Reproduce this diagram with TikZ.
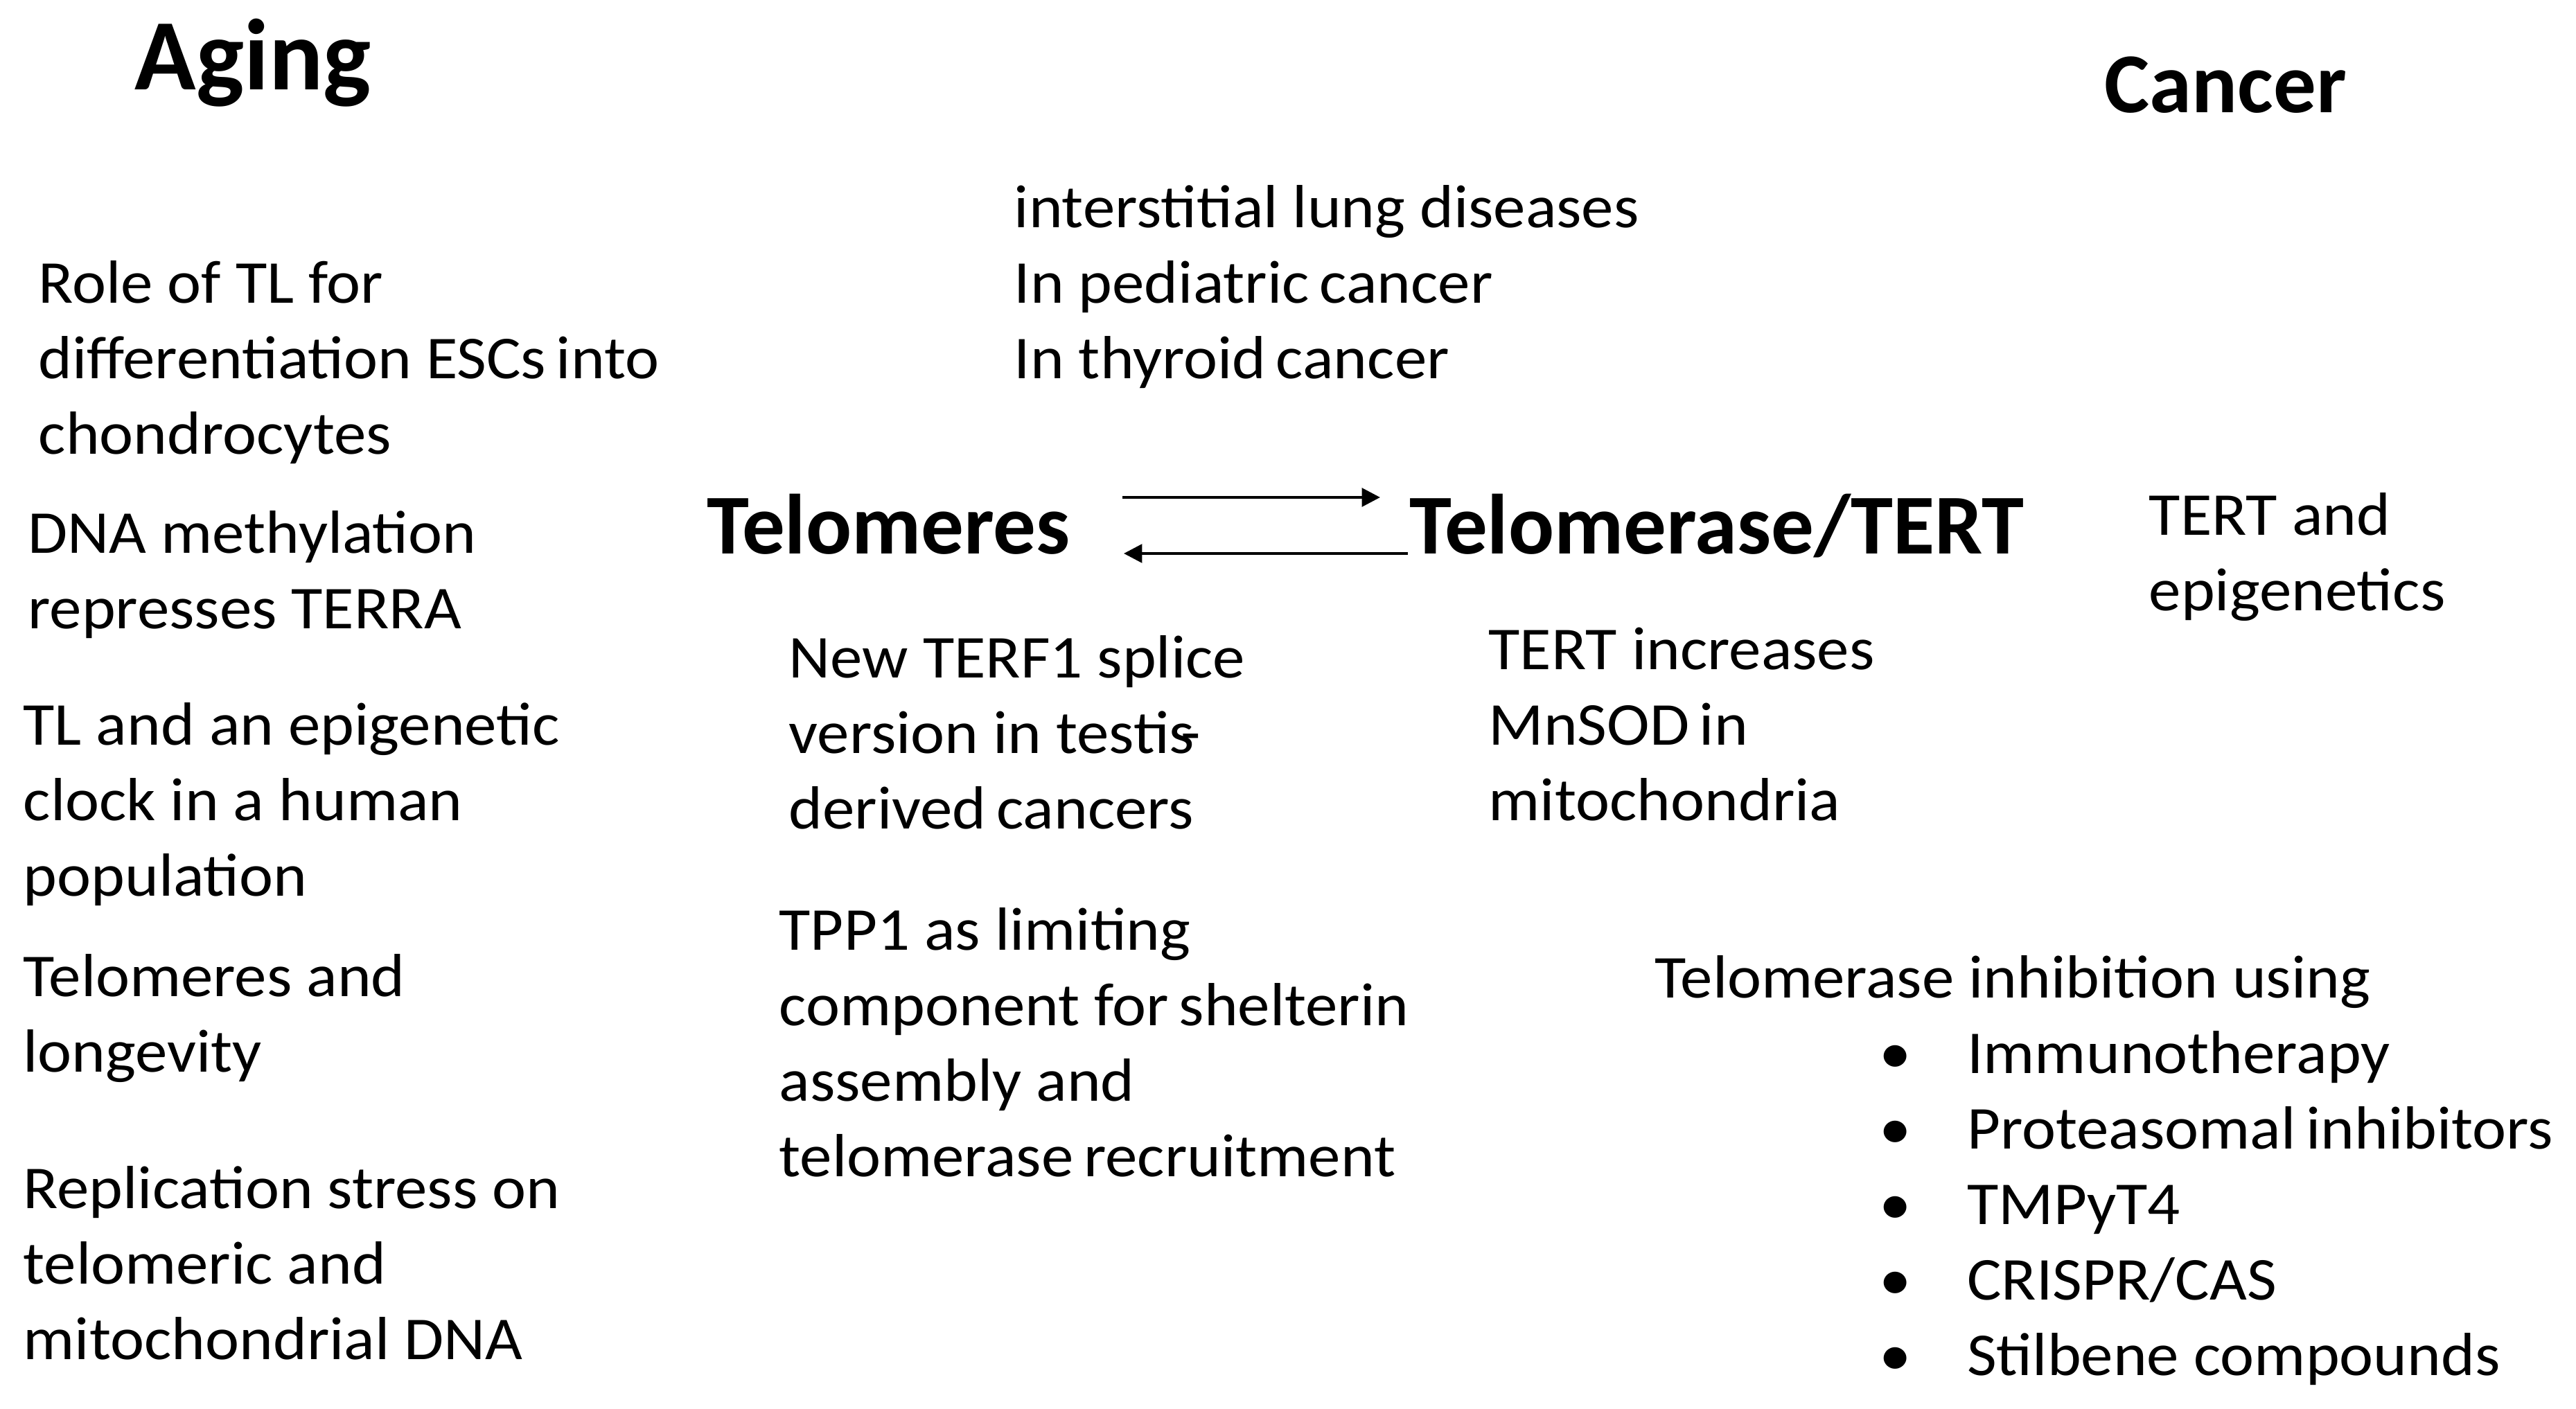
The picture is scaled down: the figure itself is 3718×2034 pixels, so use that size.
\documentclass[tikz,border=0pt]{standalone}
\usepackage{fontspec}
\setmainfont{Carlito}
\newfontfamily\bodyfont[FakeStretch=1.057]{Carlito}
\usetikzlibrary{arrows.meta}
\tikzset{
  body/.style={anchor=north west, inner sep=0pt, align=left, font=\bodyfont\fontsize{25}{31}\selectfont},
  head/.style={anchor=base west, inner sep=0pt, font=\fontsize{35}{42}\selectfont\bfseries},
  link/.style={line width=1.3pt, -{Triangle[length=7.5pt,width=7.5pt]}}
}
\begin{document}
\begin{tikzpicture}[x=0.01cm,y=-0.01cm]
\useasboundingbox (0,0) rectangle (3718,2034);
% headings
\node[anchor=base west, inner sep=0pt, font=\fontsize{41.5}{50}\selectfont\bfseries] (aging) at (194,130) {Aging};
\node[head] (cancer) at (3037,163) {Cancer};
\node[head] (tel) at (1020,799) {Telomeres};
\node[head] (tert) at (2034,799) {Telomerase/TERT};
% left column
\node[body] (role) at (55,360) {\strut Role of TL for\\differentiation ESCs\,into\\chondrocytes};
\node[body] (dna) at (40,721) {\strut DNA methylation\\represses TERRA};
\node[body] (clock) at (33,998) {\strut TL and an epigenetic\\clock in a human\\population};
\node[body] (long) at (33,1361) {\strut Telomeres and\\longevity};
\node[body] (repl) at (33,1667) {\strut Replication stress on\\telomeric and\\mitochondrial DNA};
% middle
\node[body] (lung) at (1463,251) {\strut interstitial lung diseases\\In pediatric\,cancer\\In thyroid\,cancer};
\node[body] (terf) at (1138,901) {\strut New TERF1 splice\\version in testis\kern-0.22em-\\derived\,cancers};
\node[body] (tpp) at (1124,1294) {\strut TPP1 as limiting\\component for\,shelterin\\assembly and\\telomerase\,recruitment};
% right
\node[body] (mnsod) at (2148,889) {\strut TERT increases\\MnSOD\,in\\mitochondria};
\node[body] (epi) at (3101,695) {\strut TERT and\\epigenetics};
\node[body] (inh) at (2388,1363) {\strut Telomerase inhibition using};
\node[body] (list) at (2712,1472) {\strut\makebox[36pt][l]{\textbullet}Immunotherapy\\
\makebox[36pt][l]{\textbullet}Proteasomal\,inhibitors\\
\makebox[36pt][l]{\textbullet}TMPyT4\\
\makebox[36pt][l]{\textbullet}CRISPR/CAS\\
\makebox[36pt][l]{\textbullet}Stilbene compounds};
% arrows
\coordinate (a1s) at (1620,718);
\coordinate (a1e) at (1992,718);
\coordinate (a2s) at (2032,799);
\coordinate (a2e) at (1622,799);
\draw[link] (a1s) -- (a1e);
\draw[link] (a2s) -- (a2e);
\end{tikzpicture}
\end{document}
